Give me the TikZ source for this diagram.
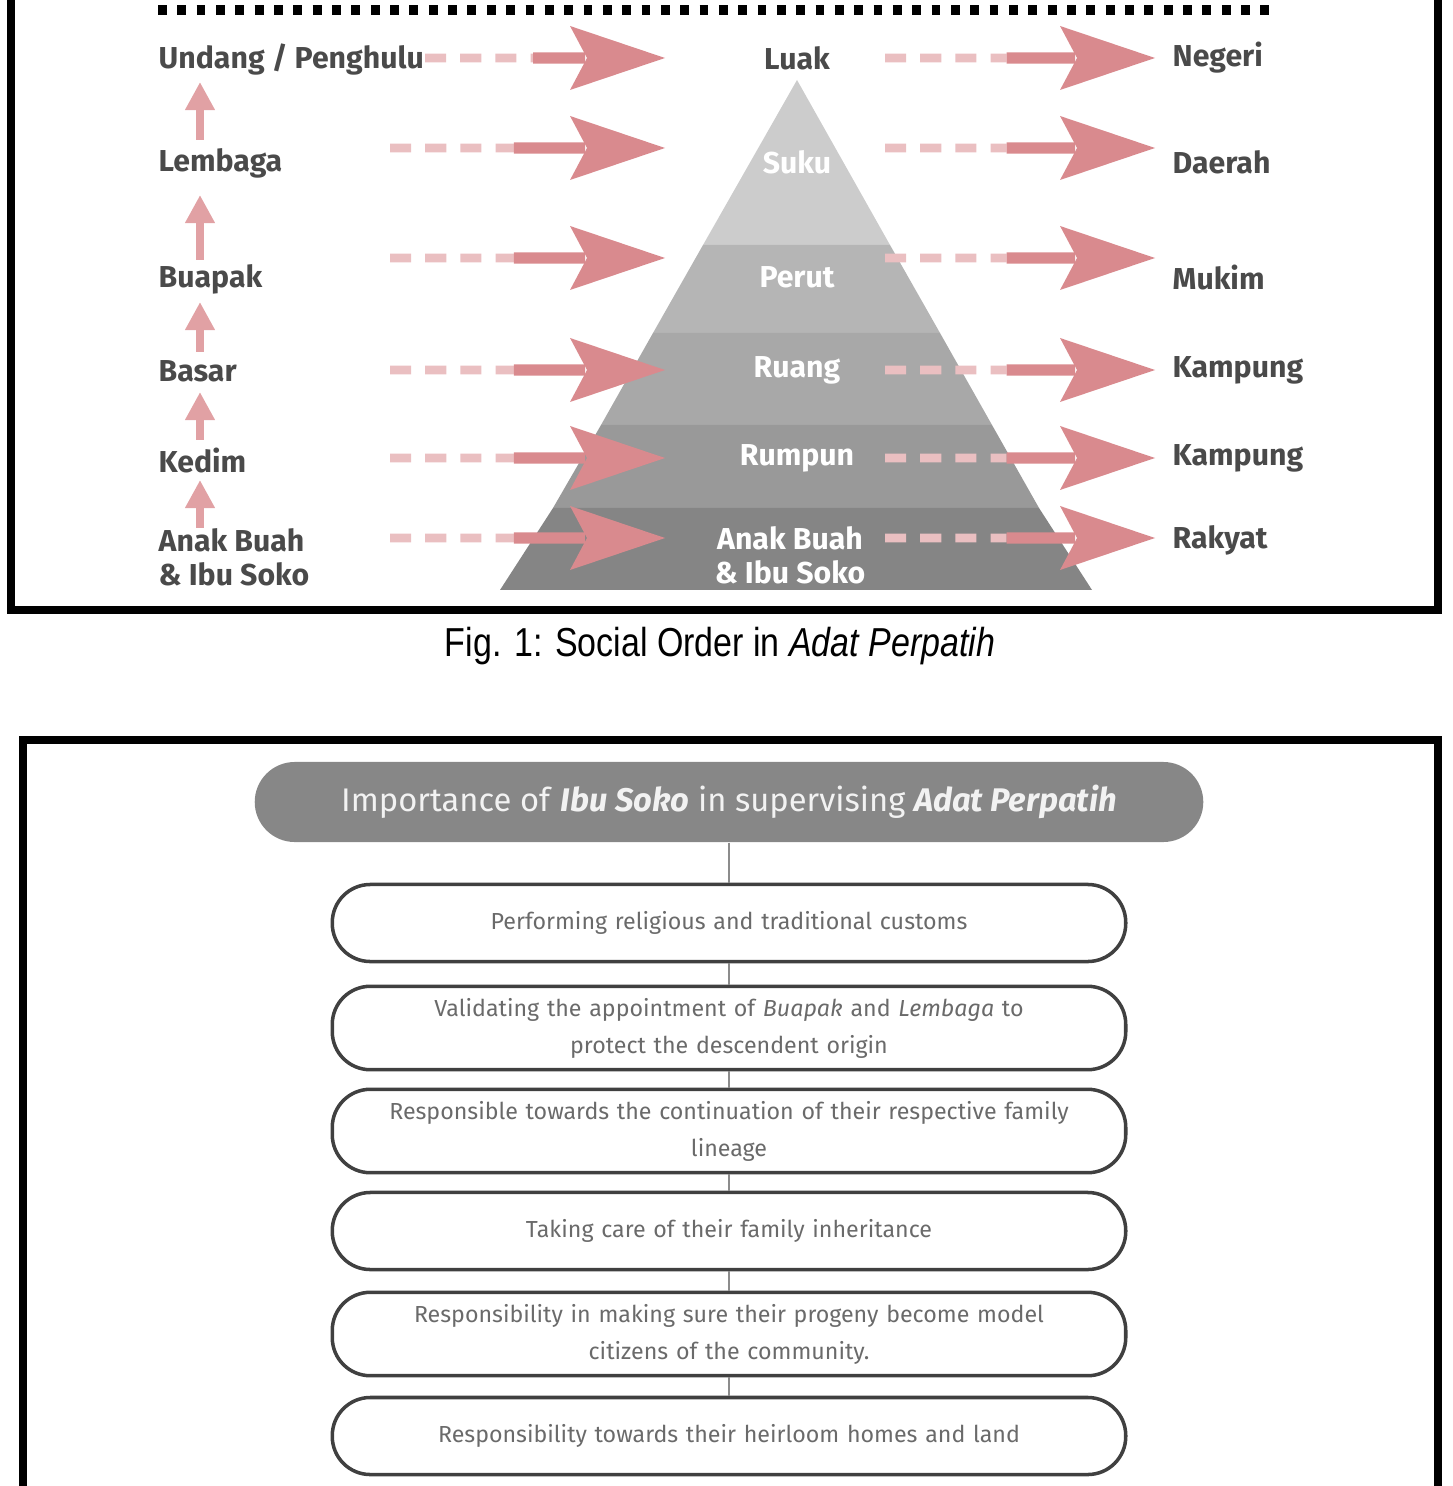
\documentclass[tikz,border=0pt]{standalone}
\usepackage{fontspec}
\setmainfont{Fira Sans}
\newfontfamily\capfont[FakeStretch=0.84]{Liberation Sans}
\usetikzlibrary{calc,arrows.meta}
\definecolor{pk}{HTML}{D98A8E}
\definecolor{lab}{HTML}{4A4A4A}
\definecolor{boxt}{HTML}{6A6A6A}
\tikzset{
 lab/.style={font=\fontsize{8.6}{9.6}\selectfont\bfseries, text=lab, inner sep=0pt},
 lbl/.style={lab, anchor=west, align=left},
 pyl/.style={font=\fontsize{8.6}{9.6}\selectfont\bfseries, text=white, align=center, inner sep=0pt},
 up/.style={pk!80, line width=2pt, -{Triangle[width=8pt,length=8pt]}},
 box/.style={draw=black!75, line width=1pt, rounded corners=0.38cm, minimum width=7.93cm, minimum height=0.77cm, text=boxt, font=\fontsize{6.6}{10.5}\selectfont, align=center, text width=7.3cm},
}
\newcommand{\pkarrow}[2]{%
 \draw[pk!55, line width=2.5pt, dash pattern=on 6pt off 4pt] (#1) -- ($(#1)!0.45!(#2)$);
 \draw[pk, line width=3.2pt] ($(#1)!0.45!(#2)$) -- ($(#2)+(-80,0)$);
 \fill[pk] (#2) -- ($(#2)+(-95,-32)$) -- ($(#2)+(-78,0)$) -- ($(#2)+(-95,32)$) -- cycle;}
\begin{document}
\begin{tikzpicture}[x=0.01cm,y=-0.01cm]
\useasboundingbox (0,0) rectangle (1452,1486);
\draw[line width=2.5pt] (11,0) -- (11,610) -- (1438,610) -- (1438,0);
\draw[line width=3pt, dash pattern=on 2.5pt off 3pt, lab] (158,10) -- (1270,10);
\fill[black!20] (797,80) -- (890,245) -- (703,245) -- cycle;
\fill[black!29] (703,245) -- (890,245) -- (940,333) -- (653,333) -- cycle;
\fill[black!34] (653,333) -- (940,333) -- (992,425) -- (601,425) -- cycle;
\fill[black!40] (601,425) -- (992,425) -- (1039,508) -- (553,508) -- cycle;
\fill[black!48] (553,508) -- (1039,508) -- (1092,590) -- (500,590) -- cycle;
\node[lab] (luak) at (797,58) {Luak};
\node[lbl] (l0) at (158,60) {Undang / Penghulu};
\node[lbl] (l1) at (158,163) {Lembaga};
\node[lbl] (l2) at (158,279) {Buapak};
\node[lbl] (l3) at (158,371) {Basar};
\node[lbl] (l4) at (158,460) {Kedim};
\node[lbl] (l5) at (158,557) {Anak Buah\\\& Ibu Soko};
\draw[up] (200,140) -- (200,82);
\draw[up] (200,260) -- (200,195);
\draw[up] (200,352) -- (200,302);
\draw[up] (200,440) -- (200,392);
\draw[up] (200,528) -- (200,480);
\node[lbl] (r0) at (1172,58) {Negeri};
\node[lbl] (r1) at (1172,162) {Daerah};
\node[lbl] (r2) at (1172,277) {Mukim};
\node[lbl] (r3) at (1172,370) {Kampung};
\node[lbl] (r4) at (1172,458) {Kampung};
\node[lbl] (r5) at (1172,540) {Rakyat};
\foreach \y/\s [count=\i] in {58/425,148/390,258/390,370/390,458/390,538/390}{
 \coordinate (la\i) at (\s,\y); \coordinate (lb\i) at (665,\y);
 \coordinate (ra\i) at (885,\y); \coordinate (rb\i) at (1155,\y);
 \pkarrow{la\i}{lb\i}
 \pkarrow{ra\i}{rb\i}
}
\node[pyl] (p1) at (797,162) {Suku};
\node[pyl] (p2) at (797,277) {Perut};
\node[pyl] (p3) at (797,370) {Ruang};
\node[pyl] (p4) at (797,458) {Rumpun};
\node[pyl] (p5) at (790,555) {Anak Buah\\\& Ibu Soko};
\node[font=\capfont\fontsize{11.5}{13}\selectfont] (cap) at (720,646) {Fig. 1: Social Order in \textit{Adat Perpatih}};
\draw[line width=2.5pt] (23,1486) -- (23,740) -- (1438,740) -- (1438,1486);
\node[fill=black!47, rounded corners=0.4cm, minimum width=9.48cm, minimum height=0.8cm, text=white!95!black, font=\fontsize{9.3}{12}\selectfont] (hd) at (729,802) {Importance of \textbf{\textit{Ibu Soko}} in supervising \textbf{\textit{Adat Perpatih}}};
\node[box] (b1) at (729,923) {Performing religious and traditional customs};
\node[box] (b2) at (729,1028) {Validating the appointment of \textit{Buapak} and \textit{Lembaga} to\\protect the descendent origin};
\node[box] (b3) at (729,1131) {Responsible towards the continuation of their respective family\\lineage};
\node[box] (b4) at (729,1231) {Taking care of their family inheritance};
\node[box] (b5) at (729,1334) {Responsibility in making sure their progeny become model\\citizens of the community.};
\node[box] (b6) at (729,1436) {Responsibility towards their heirloom homes and land};
\draw[black!45, line width=0.6pt] (hd) -- (b1) -- (b2) -- (b3) -- (b4) -- (b5) -- (b6);
\end{tikzpicture}
\end{document}
